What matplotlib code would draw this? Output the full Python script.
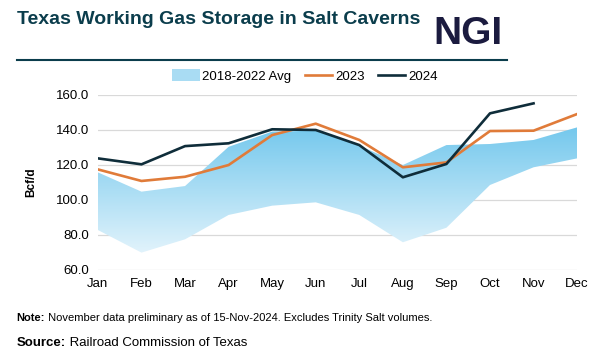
import numpy as np
import matplotlib.pyplot as plt
from matplotlib.colors import LinearSegmentedColormap
from matplotlib.patches import Rectangle
from matplotlib.legend_handler import HandlerBase
from matplotlib.lines import Line2D

plt.rcParams['font.family'] = ['Liberation Sans', 'DejaVu Sans']

##Data##
months = ['Jan', 'Feb', 'Mar', 'Apr', 'May', 'Jun', 'Jul', 'Aug', 'Sep', 'Oct', 'Nov', 'Dec']
avg_high = [115.7, 104.7, 107.9, 130.3, 139.0, 139.5, 131.0, 119.9, 131.3, 131.9, 134.2, 141.4]
avg_low = [82.8, 69.9, 77.5, 91.4, 96.7, 98.6, 91.4, 75.8, 84.1, 108.5, 118.6, 123.7]
y2023 = [117.4, 110.8, 113.2, 119.9, 137.0, 143.5, 134.2, 118.6, 121.4, 139.3, 139.5, 149.0]
y2024 = [123.7, 120.3, 130.7, 132.3, 140.3, 139.9, 131.3, 112.9, 120.5, 149.4, 155.1]

title_col = '#0b3d4c'
orange = '#e07b39'
dark = '#0f2d3a'
band_cmap = LinearSegmentedColormap.from_list('band', ['#e4f4fc', '#6fc6ec'])

fig = plt.figure(figsize=(6.12, 3.59), dpi=100)
ax = fig.add_axes([0.160, 0.248, 0.783, 0.488])

x = np.arange(len(months))

# band with vertical gradient, clipped to the fill polygon
poly = ax.fill_between(x, avg_low, avg_high, color='none', lw=0)
grad = np.linspace(0, 1, 256).reshape(-1, 1)
img = ax.imshow(grad, cmap=band_cmap, origin='lower', aspect='auto',
                extent=[0, 11, 68, 145], zorder=1)
img.set_clip_path(poly.get_paths()[0], transform=ax.transData)

ax.plot(x, y2023, color=orange, lw=1.9, zorder=3)
ax.plot(np.arange(len(y2024)), y2024, color=dark, lw=1.9, zorder=4)

ax.set_xlim(0, 11)
ax.set_ylim(60, 160)
ax.set_yticks(np.arange(60, 161, 20))
ax.set_yticklabels(['%.1f' % v for v in np.arange(60, 161, 20)])
ax.set_xticks(x)
ax.set_xticklabels(months)
ax.tick_params(length=0, labelsize=9.5, pad=6)
ax.grid(axis='y', color='#d9d9d9', lw=0.9)
ax.set_axisbelow(True)
for s in ax.spines.values():
    s.set_visible(False)
ax.set_ylabel('Bcf/d', fontsize=8.5, fontweight='bold', labelpad=14)


#legend swatch for the band
class GradHandler(HandlerBase):
    def create_artists(self, legend, orig, xd, yd, w, h, fontsize, trans):
        r = Rectangle((xd, yd - 1), w, h + 2, transform=trans,
                      facecolor='#a9dcf3', edgecolor='none')
        return [r]


band_handle = Rectangle((0, 0), 1, 1)
handles = [band_handle, Line2D([], [], color=orange, lw=1.9), Line2D([], [], color=dark, lw=1.9)]
fig.legend(handles, ['2018-2022 Avg', '2023', '2024'], loc='center',
           bbox_to_anchor=(0.498, 0.787), ncol=3, frameon=False, fontsize=9.5,
           handler_map={band_handle: GradHandler()}, handlelength=2.1,
           columnspacing=1.0, handletextpad=0.2)

fig.text(0.027, 0.945, 'Texas Working Gas Storage in Salt Caverns', fontsize=14,
         fontweight='bold', color=title_col, va='center')
fig.text(0.708, 0.905, 'NGI', fontsize=28, fontweight='bold', color='#1b1b3f', va='center')
fig.add_artist(Line2D([0.027, 0.829], [0.833, 0.833], color=title_col, lw=1.5))

note = fig.text(0.027, 0.115, 'Note:', fontsize=8, fontweight='bold', va='center')
ax.annotate(' November data preliminary as of 15-Nov-2024. Excludes Trinity Salt volumes.',
            xy=(1, 0.5), xycoords=note, va='center', fontsize=8, annotation_clip=False)
src = fig.text(0.027, 0.045, 'Source:', fontsize=9.5, fontweight='bold', va='center')
ax.annotate(' Railroad Commission of Texas', xy=(1, 0.5), xycoords=src, va='center',
            fontsize=9.5, annotation_clip=False)

fig.savefig('out.png', dpi=100)
